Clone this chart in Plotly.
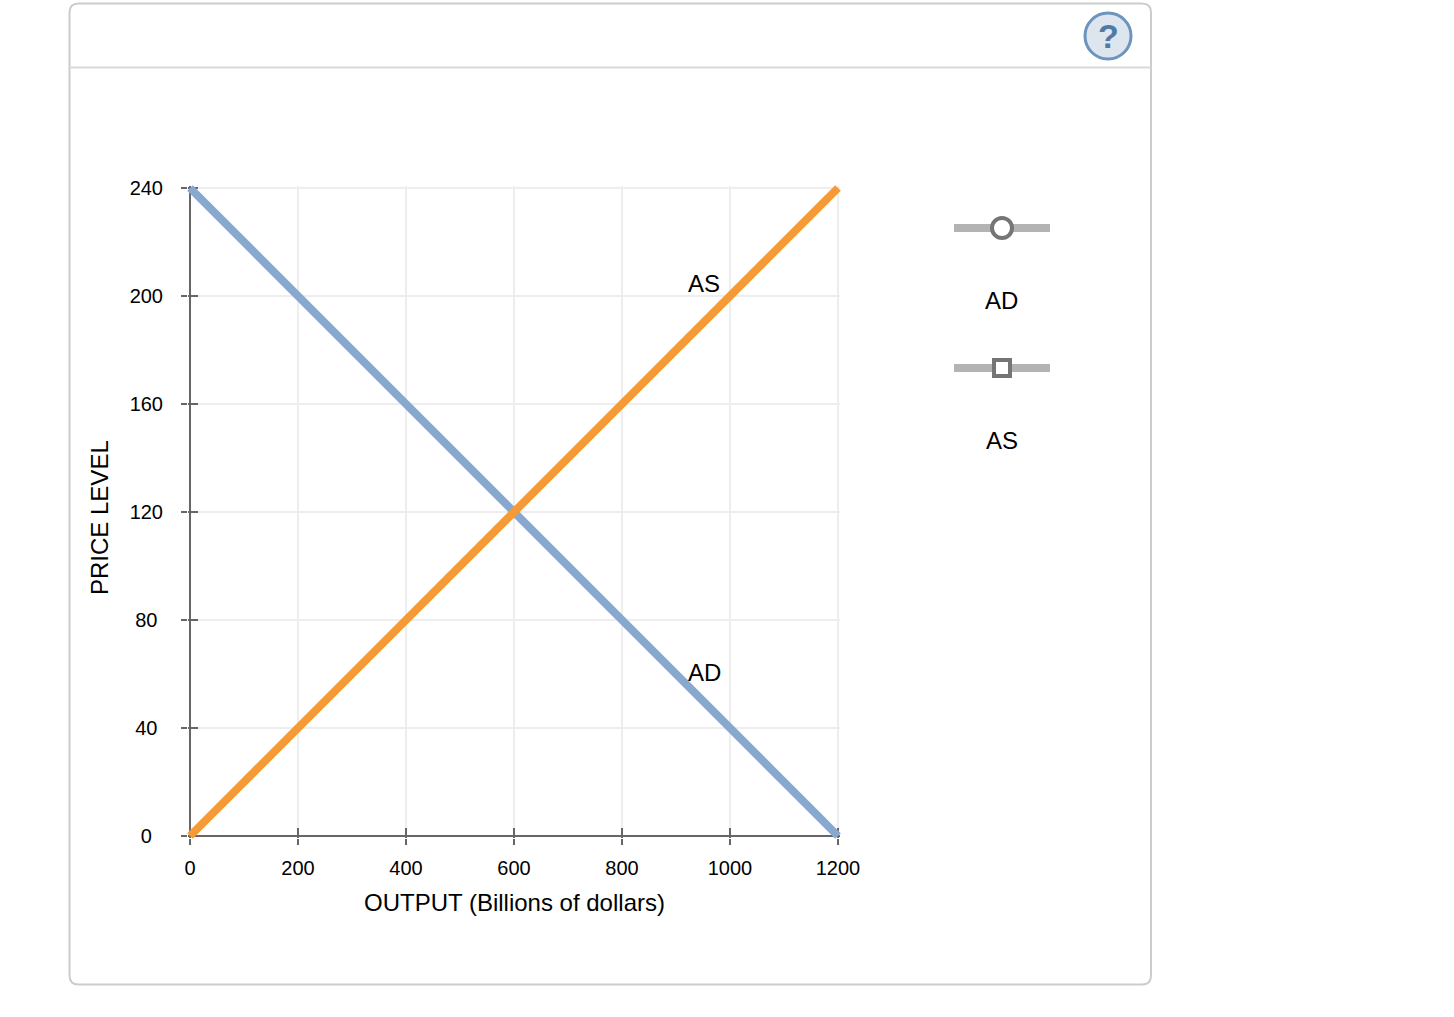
import plotly.graph_objects as go

output = [0, 1200]
ad_price = [240, 0]
as_price = [0, 240]
x_ticks = [0, 200, 400, 600, 800, 1000, 1200]
y_ticks = [0, 40, 80, 120, 160, 200, 240]
# the reference centres its y labels, nbsp padding does that with right aligned ticks
y_labels = ["0\u00a0\u00a0", "40\u00a0", "80\u00a0", "120", "160", "200", "240"]
ad_label = (952, 60.7)
as_label = (952, 204.8)
font = "Liberation Sans"

# plot area in page pixels, everything else is placed relative to it
W, H = 1454, 1017
L, R, T, B = 190, 838, 188, 836
OUT = 10   # curve subplot sticks out so the line ends are not clipped
PAD = 2    # plotly drops grid/zeroline at the range ends, so keep them just inside
PW, PH = R - L + 2 * OUT, B - T + 2 * OUT
x_unit = 1200 / (R - L)
y_unit = 240 / (B - T)


def px(x):
    return (x - (L - OUT)) / PW


def py(y):
    return ((B + OUT) - y) / PH


def txt(x, y, text, size=24, color="#000", **kw):
    fig.add_annotation(xref="paper", yref="paper", x=px(x), y=py(y), text=text, showarrow=False,
                       xanchor="center", yanchor="middle", font=dict(size=size, color=color, family=font), **kw)


main_x = [-PAD * x_unit, 1200 + PAD * x_unit]
main_y = [-PAD * y_unit, 240 + PAD * y_unit]
dom_x = [(OUT - PAD) / PW, 1 - (OUT - PAD) / PW]
dom_y = [(OUT - PAD) / PH, 1 - (OUT - PAD) / PH]

fig = go.Figure()
# invisible points so the axes with ticks get drawn
fig.add_trace(go.Scatter(x=[0], y=[0], mode="markers", marker=dict(opacity=0), hoverinfo="skip"))
fig.add_trace(go.Scatter(x=[0], y=[0], xaxis="x2", yaxis="y2", mode="markers", marker=dict(opacity=0), hoverinfo="skip"))
fig.add_trace(go.Scatter(x=output, y=ad_price, xaxis="x3", yaxis="y3", mode="lines", line=dict(color="#88a9cf", width=8)))
fig.add_trace(go.Scatter(x=output, y=as_price, xaxis="x3", yaxis="y3", mode="lines", line=dict(color="#f49b38", width=8)))

fig.add_annotation(x=ad_label[0], y=ad_label[1], xref="x", yref="y", text="AD", showarrow=False, font=dict(size=24, color="#000", family=font))
fig.add_annotation(x=as_label[0], y=as_label[1], xref="x", yref="y", text="AS", showarrow=False, font=dict(size=24, color="#000", family=font))

axis_style = dict(
    showgrid=True, gridcolor="#eeeeee", gridwidth=2,
    zeroline=True, zerolinecolor="#666666", zerolinewidth=2, showline=False,
    ticks="outside", ticklen=8 - PAD, tickwidth=2, tickcolor="#666666",
    tickfont=dict(size=20, color="#000", family=font), fixedrange=True,
)
inner_style = dict(showgrid=False, zeroline=False, showticklabels=False, ticks="inside", ticklen=8 + PAD,
                   tickwidth=2, tickcolor="#666666", fixedrange=True)
hidden = dict(visible=False, fixedrange=True)
fig.update_layout(
    width=W, height=H, autosize=False, showlegend=False,
    margin=dict(l=L - OUT, r=W - R - OUT, t=T - OUT, b=H - B - OUT),
    paper_bgcolor="#ffffff", plot_bgcolor="rgba(0,0,0,0)",
    xaxis=dict(domain=dom_x, range=main_x, tickvals=x_ticks, ticktext=[str(v) for v in x_ticks], ticklabelstandoff=6, anchor="y", **axis_style),
    yaxis=dict(domain=dom_y, range=main_y, tickvals=y_ticks, ticktext=y_labels, ticklabelstandoff=14, anchor="x", **axis_style),
    xaxis2=dict(domain=dom_x, range=main_x, tickvals=x_ticks, overlaying="x", anchor="y2", side="bottom", **inner_style),
    yaxis2=dict(domain=dom_y, range=main_y, tickvals=y_ticks, overlaying="y", anchor="x2", side="left", **inner_style),
    xaxis3=dict(domain=[0, 1], range=[-OUT * x_unit, 1200 + OUT * x_unit], anchor="y3", **hidden),
    yaxis3=dict(domain=[0, 1], range=[-OUT * y_unit, 240 + OUT * y_unit], anchor="x3", **hidden),
)

# axis titles
txt(514.5, 902, "OUTPUT (Billions of dollars)")
txt(99, 518, "PRICE LEVEL", textangle=-90)

# panel frame
r = 9
x0, x1, y0, y1 = px(69.5), px(1151), py(984.5), py(3.5)
rx, ry = r / PW, r / PH
frame = (f"M {x0 + rx} {y1} L {x1 - rx} {y1} Q {x1} {y1} {x1} {y1 - ry} L {x1} {y0 + ry} Q {x1} {y0} {x1 - rx} {y0} "
         f"L {x0 + rx} {y0} Q {x0} {y0} {x0} {y0 + ry} L {x0} {y1 - ry} Q {x0} {y1} {x0 + rx} {y1} Z")
fig.add_shape(type="path", xref="paper", yref="paper", path=frame, line=dict(color="#cccccc", width=2), layer="below")
fig.add_shape(type="line", xref="paper", yref="paper", x0=x0, x1=x1, y0=py(67.5), y1=py(67.5), line=dict(color="#d9d9d9", width=2), layer="below")

# help icon
fig.add_shape(type="circle", xref="paper", yref="paper", x0=px(1085), x1=px(1131), y0=py(59), y1=py(13),
              fillcolor="#dde6ef", line=dict(color="#6c94bd", width=3))
txt(1108, 36, "<b>?</b>", size=34, color="#4f7aa6")

# palette on the right
for yc, label, yl, kind in [(228, "AD", 300, "circle"), (368, "AS", 440, "rect")]:
    half = 10 if kind == "circle" else 8
    fig.add_shape(type="line", xref="paper", yref="paper", x0=px(954), x1=px(1050), y0=py(yc), y1=py(yc), line=dict(color="#b3b3b3", width=8))
    fig.add_shape(type=kind, xref="paper", yref="paper", x0=px(1002 - half), x1=px(1002 + half),
                  y0=py(yc + half), y1=py(yc - half), fillcolor="#ffffff", line=dict(color="#757575", width=4))
    txt(1001.5, yl, label)

fig.write_html("out.html", config={"displayModeBar": False},
               post_script="document.body.style.margin='0';document.body.style.overflow='hidden';")
